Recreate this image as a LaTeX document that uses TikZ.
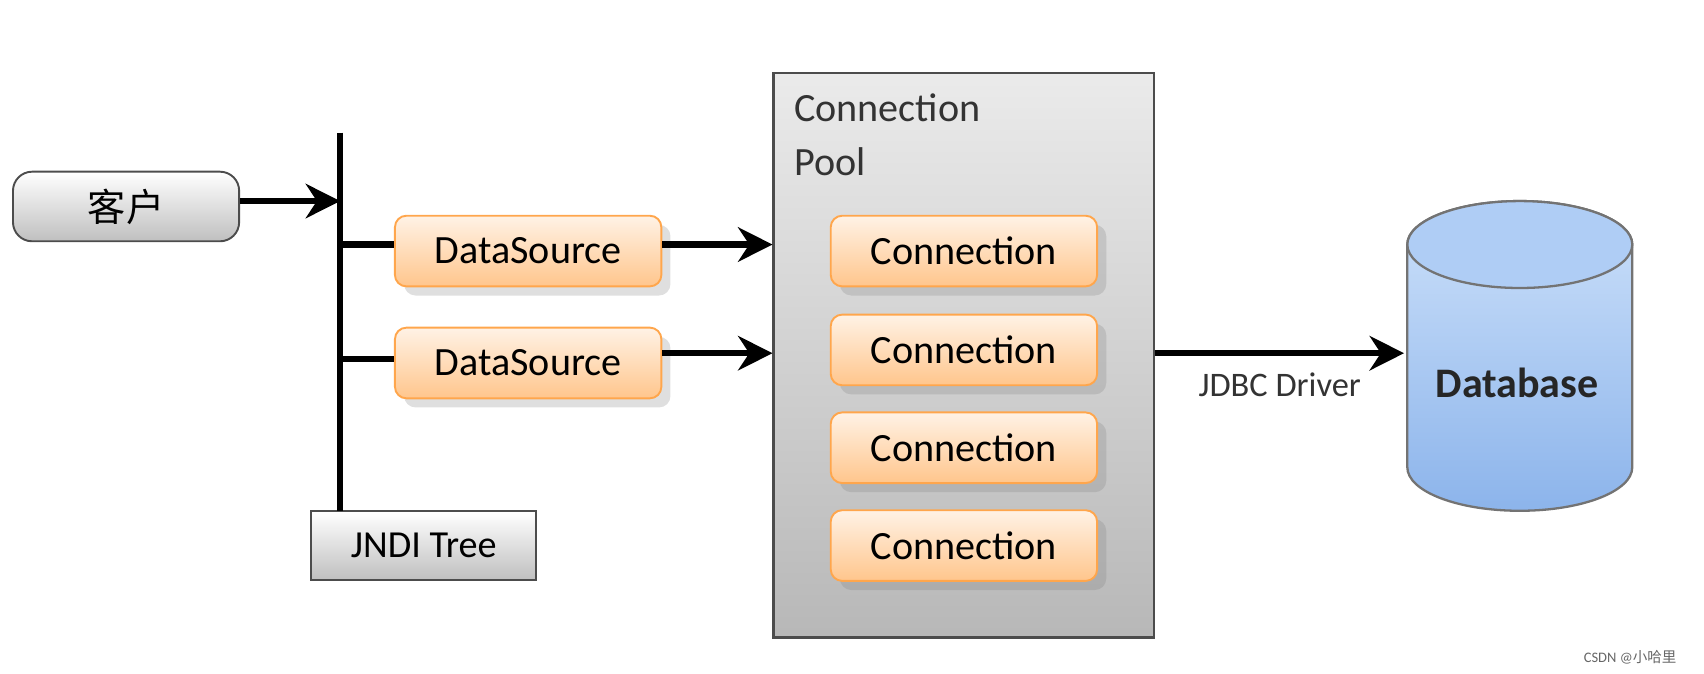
\documentclass[tikz,border=0pt]{standalone}
\usepackage{fontspec}
\setmainfont{Carlito}
\newfontfamily\cjk{Noto Sans CJK SC}
\usetikzlibrary{arrows.meta,shadows}
\definecolor{dbtop}{RGB}{205,225,250}
\definecolor{dbbot}{RGB}{140,180,235}
\definecolor{dblid}{RGB}{175,205,245}
\begin{document}
\begin{tikzpicture}[x=0.01cm,y=-0.01cm,
graybox/.style={draw=black!70, line width=0.5pt, top color=white, bottom color=black!25, font=\fontsize{10}{12}\selectfont},
orangebox/.style={draw=orange!70, line width=0.5pt, rounded corners=3pt, top color=orange!10, bottom color=orange!45,
  minimum width=2.45cm, minimum height=0.65cm, font=\fontsize{10.5}{12}\selectfont, drop shadow={opacity=0.25}},
arr/.style={line width=1.6pt, -{Stealth[length=9pt,width=9pt]}},
bar/.style={line width=1.6pt}
]
\useasboundingbox (0,0) rectangle (1568,620);

% client and JNDI
\node[graybox, rounded corners=5pt, minimum width=2.08cm, minimum height=0.64cm] (client) at (116,190) {\cjk 客户};
\node[graybox, minimum width=2.07cm, minimum height=0.63cm] (jndi) at (390,502) {JNDI Tree};
\coordinate (bartop) at (313,122);
\coordinate (barbot) at (313,470);
\draw[bar] (bartop) -- (barbot);
\coordinate (b1) at (313,185);
\coordinate (b2) at (313,225);
\coordinate (b3) at (313,330);
\draw[arr] (client.east |- b1) -- (b1);

% data sources
\node[orangebox] (ds1) at (486,231) {DataSource};
\node[orangebox] (ds2) at (486,334) {DataSource};
\draw[bar] (b2) -- (ds1.west |- b2);
\draw[bar] (b3) -- (ds2.west |- b3);

% pool
\node[draw=black!70, line width=0.6pt, top color=black!8, bottom color=black!28, minimum width=3.5cm, minimum height=5.19cm] (pool) at (887,327) {};
\node[anchor=north west, align=left, font=\fontsize{10.5}{14}\selectfont, text=black!80, inner sep=0pt] (pooltxt) at (730,86) {Connection\\Pool};
\node[orangebox] (c1) at (887,231) {Connection};
\node[orangebox] (c2) at (887,322) {Connection};
\node[orangebox] (c3) at (887,412) {Connection};
\node[orangebox] (c4) at (887,502) {Connection};
\draw[arr] (ds1.east |- 0,225) -- (pool.west |- 0,225);
\draw[arr] (ds2.east |- 0,325) -- (pool.west |- 0,325);

% database
\draw[draw=black!55, line width=0.6pt, top color=dbtop, bottom color=dbbot]
  (1295,225) -- (1295,430) arc[start angle=180, end angle=0, x radius=103.5, y radius=40]
  -- (1502,225) arc[start angle=0, end angle=-180, x radius=103.5, y radius=40] -- cycle;
\draw[draw=black!55, line width=0.6pt, fill=dblid]
  (1398.5,225) ellipse[x radius=103.5, y radius=40];
\node[font=\bfseries\fontsize{11}{13}\selectfont, text=black!85] (db) at (1396,352) {Database};
\coordinate (dbw) at (1292,325);
\draw[arr] (pool.east |- dbw) -- (dbw) node[pos=0.5, below=1pt, font=\fontsize{9}{11}\selectfont, text=black!80] (jdbc) {JDBC Driver};

\node[anchor=east, font=\fontsize{3.8}{5}\selectfont, text=black!60] (wm) at (1555,605) {CSDN @{\cjk 小哈里}};
\end{tikzpicture}
\end{document}
